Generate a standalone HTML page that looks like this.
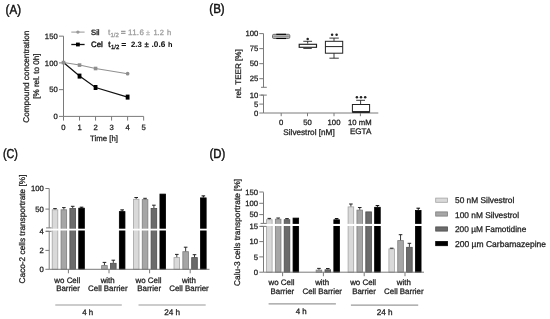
<!DOCTYPE html>
<html><head><meta charset="utf-8"><style>
html,body{margin:0;padding:0;background:#fff;}
svg{display:block;}
text{font-family:"Liberation Sans", Arial, sans-serif;text-rendering:geometricPrecision;}
</style></head><body>
<svg width="550" height="319" viewBox="0 0 550 319">
<rect width="550" height="319" fill="#fff"/>
<text x="5.60" y="14.20" font-size="13" text-anchor="start" fill="#111" stroke="#111" stroke-width="0.45" font-weight="normal" textLength="15.4" lengthAdjust="spacingAndGlyphs">(A)</text>
<line x1="63.50" y1="36.15" x2="63.50" y2="116.40" stroke="#7a7a7a" stroke-width="1.0"/>
<line x1="63.50" y1="116.40" x2="143.65" y2="116.40" stroke="#7a7a7a" stroke-width="1.0"/>
<line x1="59.00" y1="116.40" x2="63.50" y2="116.40" stroke="#7a7a7a" stroke-width="1.0"/>
<text x="57.70" y="119.00" font-size="7.7" text-anchor="end" fill="#1e1e1e" stroke="#1e1e1e" stroke-width="0.28" font-weight="normal" >0</text>
<line x1="59.00" y1="89.65" x2="63.50" y2="89.65" stroke="#7a7a7a" stroke-width="1.0"/>
<text x="57.70" y="92.25" font-size="7.7" text-anchor="end" fill="#1e1e1e" stroke="#1e1e1e" stroke-width="0.28" font-weight="normal" >50</text>
<line x1="59.00" y1="62.90" x2="63.50" y2="62.90" stroke="#7a7a7a" stroke-width="1.0"/>
<text x="57.70" y="65.50" font-size="7.7" text-anchor="end" fill="#1e1e1e" stroke="#1e1e1e" stroke-width="0.28" font-weight="normal" >100</text>
<line x1="59.00" y1="36.15" x2="63.50" y2="36.15" stroke="#7a7a7a" stroke-width="1.0"/>
<text x="57.70" y="38.75" font-size="7.7" text-anchor="end" fill="#1e1e1e" stroke="#1e1e1e" stroke-width="0.28" font-weight="normal" >150</text>
<line x1="63.50" y1="116.40" x2="63.50" y2="120.60" stroke="#7a7a7a" stroke-width="1.0"/>
<text x="63.50" y="129.60" font-size="7.7" text-anchor="middle" fill="#1e1e1e" stroke="#1e1e1e" stroke-width="0.28" font-weight="normal" >0</text>
<line x1="79.53" y1="116.40" x2="79.53" y2="120.60" stroke="#7a7a7a" stroke-width="1.0"/>
<text x="79.53" y="129.60" font-size="7.7" text-anchor="middle" fill="#1e1e1e" stroke="#1e1e1e" stroke-width="0.28" font-weight="normal" >1</text>
<line x1="95.56" y1="116.40" x2="95.56" y2="120.60" stroke="#7a7a7a" stroke-width="1.0"/>
<text x="95.56" y="129.60" font-size="7.7" text-anchor="middle" fill="#1e1e1e" stroke="#1e1e1e" stroke-width="0.28" font-weight="normal" >2</text>
<line x1="111.59" y1="116.40" x2="111.59" y2="120.60" stroke="#7a7a7a" stroke-width="1.0"/>
<text x="111.59" y="129.60" font-size="7.7" text-anchor="middle" fill="#1e1e1e" stroke="#1e1e1e" stroke-width="0.28" font-weight="normal" >3</text>
<line x1="127.62" y1="116.40" x2="127.62" y2="120.60" stroke="#7a7a7a" stroke-width="1.0"/>
<text x="127.62" y="129.60" font-size="7.7" text-anchor="middle" fill="#1e1e1e" stroke="#1e1e1e" stroke-width="0.28" font-weight="normal" >4</text>
<line x1="143.65" y1="116.40" x2="143.65" y2="120.60" stroke="#7a7a7a" stroke-width="1.0"/>
<text x="143.65" y="129.60" font-size="7.7" text-anchor="middle" fill="#1e1e1e" stroke="#1e1e1e" stroke-width="0.28" font-weight="normal" >5</text>
<text x="104.00" y="141.30" font-size="7.8" text-anchor="middle" fill="#1e1e1e" stroke="#1e1e1e" stroke-width="0.28" font-weight="normal" >Time [h]</text>
<text transform="translate(29.30,76.70) rotate(-90)" x="0" y="0" font-size="8.25" text-anchor="middle" fill="#1e1e1e" stroke="#1e1e1e" stroke-width="0.28" >Compound concentration</text>
<text transform="translate(39.40,76.10) rotate(-90)" x="0" y="0" font-size="8.1" text-anchor="middle" fill="#1e1e1e" stroke="#1e1e1e" stroke-width="0.28" >[% rel. to 0h]</text>
<polyline points="63.50,62.60 79.53,65.10 95.56,68.50 127.62,73.70" fill="none" stroke="#919191" stroke-width="1.05"/>
<polyline points="63.50,62.60 79.53,76.10 95.56,87.50 127.62,97.10" fill="none" stroke="#111" stroke-width="1.25"/>
<rect x="61.70" y="60.80" width="3.60" height="3.60" fill="#8e8e8e" stroke="none" stroke-width="0.8" rx="0"/>
<rect x="77.73" y="63.30" width="3.60" height="3.60" fill="#8e8e8e" stroke="none" stroke-width="0.8" rx="0"/>
<rect x="93.76" y="66.70" width="3.60" height="3.60" fill="#8e8e8e" stroke="none" stroke-width="0.8" rx="0"/>
<circle cx="127.62" cy="73.7" r="1.85" fill="#8e8e8e"/>
<rect x="77.63" y="73.60" width="3.80" height="5.00" fill="#000" stroke="none" stroke-width="0.8" rx="0"/>
<rect x="93.66" y="85.00" width="3.80" height="5.00" fill="#000" stroke="none" stroke-width="0.8" rx="0"/>
<rect x="125.72" y="94.60" width="3.80" height="5.00" fill="#000" stroke="none" stroke-width="0.8" rx="0"/>
<line x1="71.30" y1="32.10" x2="84.60" y2="32.10" stroke="#a0a0a0" stroke-width="1.1"/>
<circle cx="77.9" cy="32.1" r="1.7" fill="#999"/>
<line x1="71.30" y1="44.50" x2="84.60" y2="44.50" stroke="#111" stroke-width="1.3"/>
<rect x="76.00" y="42.60" width="3.80" height="3.80" fill="#000" stroke="none" stroke-width="0.8" rx="0"/>
<text x="91.00" y="34.60" font-size="7.7" text-anchor="start" fill="#333" stroke="#333" stroke-width="0.45" font-weight="normal" >Sil</text>
<text x="91.00" y="46.70" font-size="7.8" text-anchor="start" fill="#111" stroke="#111" stroke-width="0.4" font-weight="normal" >Cel</text>
<text x="108.00" y="34.60" font-size="8.2" text-anchor="start" fill="#9c9c9c" stroke="#9c9c9c" stroke-width="0.28" font-weight="normal" >t</text>
<text x="110.40" y="36.70" font-size="6.0" text-anchor="start" fill="#9c9c9c" stroke="#9c9c9c" stroke-width="0.28" font-weight="normal" >1/2</text>
<text x="121.00" y="34.60" font-size="7.8" text-anchor="start" fill="#9c9c9c" stroke="#9c9c9c" stroke-width="0.6" font-weight="normal" >=</text>
<text x="128.00" y="34.60" font-size="7.9" text-anchor="start" fill="#9c9c9c" stroke="#9c9c9c" stroke-width="0.28" font-weight="normal" textLength="15.8" lengthAdjust="spacing">11.6</text>
<text x="146.00" y="34.60" font-size="7.2" text-anchor="start" fill="#b8b8b8" stroke="#b8b8b8" stroke-width="0.28" font-weight="normal" >±</text>
<text x="153.40" y="34.60" font-size="7.5" text-anchor="start" fill="#9c9c9c" stroke="#9c9c9c" stroke-width="0.28" font-weight="normal" >1.2</text>
<text x="167.00" y="34.60" font-size="7.5" text-anchor="start" fill="#9c9c9c" stroke="#9c9c9c" stroke-width="0.28" font-weight="normal" >h</text>
<text x="108.30" y="46.60" font-size="8.2" text-anchor="start" fill="#111" stroke="#111" stroke-width="0.4" font-weight="normal" >t</text>
<text x="110.90" y="48.70" font-size="6.0" text-anchor="start" fill="#111" stroke="#111" stroke-width="0.28" font-weight="normal" >1/2</text>
<text x="121.50" y="46.60" font-size="7.8" text-anchor="start" fill="#111" stroke="#111" stroke-width="0.5" font-weight="normal" >=</text>
<text x="131.00" y="46.60" font-size="7.8" text-anchor="start" fill="#111" stroke="#111" stroke-width="0.05" font-weight="bold" >2.3</text>
<text x="144.60" y="46.60" font-size="7.8" text-anchor="start" fill="#111" stroke="#111" stroke-width="0.28" font-weight="normal" >±</text>
<text x="151.60" y="46.60" font-size="8.2" text-anchor="start" fill="#111" stroke="#111" stroke-width="0.05" font-weight="bold" >.0.6</text>
<text x="167.90" y="46.60" font-size="7.3" text-anchor="start" fill="#111" stroke="#111" stroke-width="0.05" font-weight="bold" >h</text>
<text x="209.30" y="13.20" font-size="13" text-anchor="start" fill="#111" stroke="#111" stroke-width="0.45" font-weight="normal" textLength="15.4" lengthAdjust="spacingAndGlyphs">(B)</text>
<line x1="263.50" y1="33.60" x2="263.50" y2="87.30" stroke="#7a7a7a" stroke-width="1.0"/>
<line x1="263.50" y1="95.10" x2="263.50" y2="113.00" stroke="#7a7a7a" stroke-width="1.0"/>
<line x1="261.00" y1="87.30" x2="266.80" y2="87.30" stroke="#7a7a7a" stroke-width="1.0"/>
<line x1="261.00" y1="95.10" x2="266.80" y2="95.10" stroke="#7a7a7a" stroke-width="1.0"/>
<line x1="259.30" y1="33.60" x2="263.50" y2="33.60" stroke="#7a7a7a" stroke-width="1.0"/>
<text x="258.30" y="36.20" font-size="7.7" text-anchor="end" fill="#1e1e1e" stroke="#1e1e1e" stroke-width="0.28" font-weight="normal" >100</text>
<line x1="259.30" y1="48.63" x2="263.50" y2="48.63" stroke="#7a7a7a" stroke-width="1.0"/>
<text x="258.30" y="51.23" font-size="7.7" text-anchor="end" fill="#1e1e1e" stroke="#1e1e1e" stroke-width="0.28" font-weight="normal" >75</text>
<line x1="259.30" y1="63.66" x2="263.50" y2="63.66" stroke="#7a7a7a" stroke-width="1.0"/>
<text x="258.30" y="66.27" font-size="7.7" text-anchor="end" fill="#1e1e1e" stroke="#1e1e1e" stroke-width="0.28" font-weight="normal" >50</text>
<line x1="259.30" y1="78.70" x2="263.50" y2="78.70" stroke="#7a7a7a" stroke-width="1.0"/>
<text x="258.30" y="81.30" font-size="7.7" text-anchor="end" fill="#1e1e1e" stroke="#1e1e1e" stroke-width="0.28" font-weight="normal" >25</text>
<line x1="259.30" y1="95.10" x2="263.50" y2="95.10" stroke="#7a7a7a" stroke-width="1.0"/>
<text x="258.30" y="97.70" font-size="7.7" text-anchor="end" fill="#1e1e1e" stroke="#1e1e1e" stroke-width="0.28" font-weight="normal" >10</text>
<line x1="259.30" y1="104.10" x2="263.50" y2="104.10" stroke="#7a7a7a" stroke-width="1.0"/>
<text x="258.30" y="106.70" font-size="7.7" text-anchor="end" fill="#1e1e1e" stroke="#1e1e1e" stroke-width="0.28" font-weight="normal" >5</text>
<line x1="259.30" y1="113.00" x2="263.50" y2="113.00" stroke="#7a7a7a" stroke-width="1.0"/>
<text x="258.30" y="115.60" font-size="7.7" text-anchor="end" fill="#1e1e1e" stroke="#1e1e1e" stroke-width="0.28" font-weight="normal" >0</text>
<line x1="263.50" y1="113.00" x2="378.30" y2="113.00" stroke="#7a7a7a" stroke-width="1.0"/>
<line x1="281.20" y1="113.00" x2="281.20" y2="116.20" stroke="#7a7a7a" stroke-width="1.0"/>
<line x1="307.50" y1="113.00" x2="307.50" y2="116.20" stroke="#7a7a7a" stroke-width="1.0"/>
<line x1="334.00" y1="113.00" x2="334.00" y2="116.20" stroke="#7a7a7a" stroke-width="1.0"/>
<line x1="360.40" y1="113.00" x2="360.40" y2="116.20" stroke="#7a7a7a" stroke-width="1.0"/>
<text x="281.20" y="125.10" font-size="7.7" text-anchor="middle" fill="#1e1e1e" stroke="#1e1e1e" stroke-width="0.28" font-weight="normal" >0</text>
<text x="307.50" y="125.10" font-size="7.7" text-anchor="middle" fill="#1e1e1e" stroke="#1e1e1e" stroke-width="0.28" font-weight="normal" >50</text>
<text x="334.00" y="125.10" font-size="7.7" text-anchor="middle" fill="#1e1e1e" stroke="#1e1e1e" stroke-width="0.28" font-weight="normal" >100</text>
<text x="359.80" y="124.60" font-size="7.7" text-anchor="middle" fill="#1e1e1e" stroke="#1e1e1e" stroke-width="0.28" font-weight="normal" >10 mM</text>
<text x="360.60" y="133.90" font-size="8.1" text-anchor="middle" fill="#1e1e1e" stroke="#1e1e1e" stroke-width="0.28" font-weight="normal" >EGTA</text>
<text x="309.00" y="135.10" font-size="8.2" text-anchor="middle" fill="#1e1e1e" stroke="#1e1e1e" stroke-width="0.28" font-weight="normal" >Silvestrol [nM]</text>
<text transform="translate(241.00,73.70) rotate(-90)" x="0" y="0" font-size="8.1" text-anchor="middle" fill="#1e1e1e" stroke="#1e1e1e" stroke-width="0.28" >rel. TEER [%]</text>
<rect x="272.50" y="34.30" width="17.30" height="4.20" fill="#b4b4b4" stroke="#6a6a6a" stroke-width="1.0" rx="1.3"/>
<line x1="273.50" y1="36.40" x2="288.80" y2="36.40" stroke="#8a8a8a" stroke-width="0.8"/>
<line x1="276.30" y1="34.30" x2="286.00" y2="34.30" stroke="#000" stroke-width="1.1"/>
<line x1="276.30" y1="38.50" x2="286.00" y2="38.50" stroke="#000" stroke-width="1.1"/>
<line x1="307.70" y1="41.30" x2="307.70" y2="43.60" stroke="#222" stroke-width="0.9"/>
<line x1="303.30" y1="41.30" x2="312.10" y2="41.30" stroke="#222" stroke-width="0.9"/>
<rect x="299.20" y="44.30" width="17.30" height="3.00" fill="#fff" stroke="#222" stroke-width="1.15" rx="0"/>
<line x1="303.30" y1="48.50" x2="311.80" y2="48.50" stroke="#333" stroke-width="0.9"/>
<circle cx="307.7" cy="38.9" r="1.25" fill="#222"/>
<line x1="334.00" y1="38.10" x2="334.00" y2="41.00" stroke="#222" stroke-width="0.9"/>
<line x1="329.40" y1="38.10" x2="338.80" y2="38.10" stroke="#222" stroke-width="0.9"/>
<rect x="325.40" y="41.30" width="17.30" height="11.90" fill="#fff" stroke="#222" stroke-width="1.0" rx="0"/>
<line x1="325.40" y1="46.60" x2="342.70" y2="46.60" stroke="#222" stroke-width="1.0"/>
<line x1="334.00" y1="53.20" x2="334.00" y2="58.20" stroke="#222" stroke-width="0.9"/>
<line x1="329.40" y1="58.20" x2="338.80" y2="58.20" stroke="#222" stroke-width="0.9"/>
<circle cx="332.1" cy="34.7" r="1.25" fill="#222"/><circle cx="336.6" cy="34.7" r="1.25" fill="#222"/>
<line x1="360.60" y1="100.30" x2="360.60" y2="104.50" stroke="#222" stroke-width="0.9"/>
<line x1="356.20" y1="100.30" x2="365.00" y2="100.30" stroke="#222" stroke-width="0.9"/>
<rect x="352.40" y="104.50" width="17.20" height="7.60" fill="#fff" stroke="#222" stroke-width="1.0" rx="0"/>
<line x1="352.40" y1="112.00" x2="369.60" y2="112.00" stroke="#222" stroke-width="1.8"/>
<circle cx="356.9" cy="97.2" r="1.25" fill="#222"/><circle cx="361.0" cy="97.2" r="1.25" fill="#222"/><circle cx="365.2" cy="97.2" r="1.25" fill="#222"/>
<text x="2.90" y="157.80" font-size="13" text-anchor="start" fill="#111" stroke="#111" stroke-width="0.45" font-weight="normal" textLength="15.0" lengthAdjust="spacingAndGlyphs">(C)</text>
<rect x="52.20" y="209.80" width="5.60" height="59.50" fill="#d9d9d9" stroke="#a3a3a3" stroke-width="0.8" rx="0"/>
<line x1="55.00" y1="208.60" x2="55.00" y2="209.40" stroke="#222" stroke-width="0.9"/>
<line x1="53.20" y1="208.60" x2="56.80" y2="208.60" stroke="#222" stroke-width="1.0"/>
<rect x="61.05" y="209.80" width="5.60" height="59.50" fill="#a6a6a6" stroke="#7d7d7d" stroke-width="0.8" rx="0"/>
<line x1="63.85" y1="207.60" x2="63.85" y2="209.40" stroke="#222" stroke-width="0.9"/>
<line x1="62.05" y1="207.60" x2="65.65" y2="207.60" stroke="#222" stroke-width="1.0"/>
<rect x="69.90" y="208.50" width="5.60" height="60.80" fill="#6b6b6b" stroke="#4d4d4d" stroke-width="0.8" rx="0"/>
<line x1="72.70" y1="206.30" x2="72.70" y2="208.10" stroke="#222" stroke-width="0.9"/>
<line x1="70.90" y1="206.30" x2="74.50" y2="206.30" stroke="#222" stroke-width="1.0"/>
<rect x="78.75" y="208.20" width="5.60" height="61.10" fill="#000" stroke="#000" stroke-width="0.8" rx="0"/>
<line x1="81.55" y1="207.20" x2="81.55" y2="207.80" stroke="#000" stroke-width="0.9"/>
<line x1="79.75" y1="207.20" x2="83.35" y2="207.20" stroke="#000" stroke-width="1.0"/>
<rect x="101.65" y="265.60" width="5.60" height="3.70" fill="#a6a6a6" stroke="#7d7d7d" stroke-width="0.8" rx="0"/>
<line x1="104.45" y1="262.40" x2="104.45" y2="265.20" stroke="#222" stroke-width="0.9"/>
<line x1="102.65" y1="262.40" x2="106.25" y2="262.40" stroke="#222" stroke-width="1.0"/>
<rect x="110.50" y="263.30" width="5.60" height="6.00" fill="#6b6b6b" stroke="#4d4d4d" stroke-width="0.8" rx="0"/>
<line x1="113.30" y1="260.20" x2="113.30" y2="262.90" stroke="#222" stroke-width="0.9"/>
<line x1="111.50" y1="260.20" x2="115.10" y2="260.20" stroke="#222" stroke-width="1.0"/>
<rect x="119.35" y="211.60" width="5.60" height="57.70" fill="#000" stroke="#000" stroke-width="0.8" rx="0"/>
<line x1="122.15" y1="209.90" x2="122.15" y2="211.20" stroke="#000" stroke-width="0.9"/>
<line x1="120.35" y1="209.90" x2="123.95" y2="209.90" stroke="#000" stroke-width="1.0"/>
<rect x="133.40" y="199.30" width="5.60" height="70.00" fill="#d9d9d9" stroke="#a3a3a3" stroke-width="0.8" rx="0"/>
<line x1="136.20" y1="197.50" x2="136.20" y2="198.90" stroke="#222" stroke-width="0.9"/>
<line x1="134.40" y1="197.50" x2="138.00" y2="197.50" stroke="#222" stroke-width="1.0"/>
<rect x="142.25" y="199.60" width="5.60" height="69.70" fill="#a6a6a6" stroke="#7d7d7d" stroke-width="0.8" rx="0"/>
<line x1="145.05" y1="198.30" x2="145.05" y2="199.20" stroke="#222" stroke-width="0.9"/>
<line x1="143.25" y1="198.30" x2="146.85" y2="198.30" stroke="#222" stroke-width="1.0"/>
<rect x="151.10" y="208.40" width="5.60" height="60.90" fill="#6b6b6b" stroke="#4d4d4d" stroke-width="0.8" rx="0"/>
<line x1="153.90" y1="205.20" x2="153.90" y2="208.00" stroke="#222" stroke-width="0.9"/>
<line x1="152.10" y1="205.20" x2="155.70" y2="205.20" stroke="#222" stroke-width="1.0"/>
<rect x="159.95" y="194.10" width="5.60" height="75.20" fill="#000" stroke="#000" stroke-width="0.8" rx="0"/>
<rect x="174.00" y="257.60" width="5.60" height="11.70" fill="#d9d9d9" stroke="#a3a3a3" stroke-width="0.8" rx="0"/>
<line x1="176.80" y1="254.40" x2="176.80" y2="257.20" stroke="#222" stroke-width="0.9"/>
<line x1="175.00" y1="254.40" x2="178.60" y2="254.40" stroke="#222" stroke-width="1.0"/>
<rect x="182.85" y="251.70" width="5.60" height="17.60" fill="#a6a6a6" stroke="#7d7d7d" stroke-width="0.8" rx="0"/>
<line x1="185.65" y1="247.20" x2="185.65" y2="251.30" stroke="#222" stroke-width="0.9"/>
<line x1="183.85" y1="247.20" x2="187.45" y2="247.20" stroke="#222" stroke-width="1.0"/>
<rect x="191.70" y="257.60" width="5.60" height="11.70" fill="#6b6b6b" stroke="#4d4d4d" stroke-width="0.8" rx="0"/>
<line x1="194.50" y1="254.70" x2="194.50" y2="257.20" stroke="#222" stroke-width="0.9"/>
<line x1="192.70" y1="254.70" x2="196.30" y2="254.70" stroke="#222" stroke-width="1.0"/>
<rect x="200.55" y="197.90" width="5.60" height="71.40" fill="#000" stroke="#000" stroke-width="0.8" rx="0"/>
<line x1="203.35" y1="195.90" x2="203.35" y2="197.50" stroke="#000" stroke-width="0.9"/>
<line x1="201.55" y1="195.90" x2="205.15" y2="195.90" stroke="#000" stroke-width="1.0"/>
<rect x="50.80" y="228.70" width="158.00" height="1.80" fill="#fff"/>
<line x1="49.20" y1="188.50" x2="49.20" y2="227.90" stroke="#7a7a7a" stroke-width="1.0"/>
<line x1="46.10" y1="227.90" x2="51.60" y2="227.90" stroke="#7a7a7a" stroke-width="1.0"/>
<line x1="49.20" y1="231.30" x2="49.20" y2="269.30" stroke="#7a7a7a" stroke-width="1.0"/>
<line x1="46.10" y1="231.30" x2="51.60" y2="231.30" stroke="#7a7a7a" stroke-width="1.0"/>
<line x1="45.40" y1="188.50" x2="49.20" y2="188.50" stroke="#7a7a7a" stroke-width="1.0"/>
<text x="43.90" y="191.10" font-size="7.7" text-anchor="end" fill="#1e1e1e" stroke="#1e1e1e" stroke-width="0.28" font-weight="normal" >100</text>
<line x1="45.40" y1="209.10" x2="49.20" y2="209.10" stroke="#7a7a7a" stroke-width="1.0"/>
<text x="43.90" y="211.70" font-size="7.7" text-anchor="end" fill="#1e1e1e" stroke="#1e1e1e" stroke-width="0.28" font-weight="normal" >50</text>
<line x1="45.40" y1="231.30" x2="49.20" y2="231.30" stroke="#7a7a7a" stroke-width="1.0"/>
<text x="43.90" y="233.90" font-size="7.7" text-anchor="end" fill="#1e1e1e" stroke="#1e1e1e" stroke-width="0.28" font-weight="normal" >4</text>
<line x1="45.40" y1="250.40" x2="49.20" y2="250.40" stroke="#7a7a7a" stroke-width="1.0"/>
<text x="43.90" y="253.00" font-size="7.7" text-anchor="end" fill="#1e1e1e" stroke="#1e1e1e" stroke-width="0.28" font-weight="normal" >2</text>
<line x1="45.40" y1="269.30" x2="49.20" y2="269.30" stroke="#7a7a7a" stroke-width="1.0"/>
<text x="43.90" y="271.90" font-size="7.7" text-anchor="end" fill="#1e1e1e" stroke="#1e1e1e" stroke-width="0.28" font-weight="normal" >0</text>
<line x1="49.20" y1="269.30" x2="209.50" y2="269.30" stroke="#7a7a7a" stroke-width="1.0"/>
<line x1="68.40" y1="269.30" x2="68.40" y2="273.30" stroke="#7a7a7a" stroke-width="1.0"/>
<line x1="109.00" y1="269.30" x2="109.00" y2="273.30" stroke="#7a7a7a" stroke-width="1.0"/>
<line x1="149.60" y1="269.30" x2="149.60" y2="273.30" stroke="#7a7a7a" stroke-width="1.0"/>
<line x1="190.20" y1="269.30" x2="190.20" y2="273.30" stroke="#7a7a7a" stroke-width="1.0"/>
<text x="67.30" y="282.50" font-size="7.9" text-anchor="middle" fill="#1e1e1e" stroke="#1e1e1e" stroke-width="0.28" font-weight="normal" >wo Cell</text>
<text x="68.00" y="291.20" font-size="7.9" text-anchor="middle" fill="#1e1e1e" stroke="#1e1e1e" stroke-width="0.28" font-weight="normal" >Barrier</text>
<text x="107.70" y="282.50" font-size="7.9" text-anchor="middle" fill="#1e1e1e" stroke="#1e1e1e" stroke-width="0.28" font-weight="normal" >with</text>
<text x="107.80" y="291.20" font-size="7.9" text-anchor="middle" fill="#1e1e1e" stroke="#1e1e1e" stroke-width="0.28" font-weight="normal" >Cell Barrier</text>
<text x="148.50" y="282.50" font-size="7.9" text-anchor="middle" fill="#1e1e1e" stroke="#1e1e1e" stroke-width="0.28" font-weight="normal" >wo Cell</text>
<text x="149.20" y="291.20" font-size="7.9" text-anchor="middle" fill="#1e1e1e" stroke="#1e1e1e" stroke-width="0.28" font-weight="normal" >Barrier</text>
<text x="188.90" y="282.50" font-size="7.9" text-anchor="middle" fill="#1e1e1e" stroke="#1e1e1e" stroke-width="0.28" font-weight="normal" >with</text>
<text x="189.00" y="291.20" font-size="7.9" text-anchor="middle" fill="#1e1e1e" stroke="#1e1e1e" stroke-width="0.28" font-weight="normal" >Cell Barrier</text>
<line x1="55.30" y1="305.00" x2="121.80" y2="305.00" stroke="#9a9a9a" stroke-width="1.2"/>
<line x1="138.50" y1="305.00" x2="205.70" y2="305.00" stroke="#9a9a9a" stroke-width="1.2"/>
<text x="87.70" y="314.80" font-size="7.9" text-anchor="middle" fill="#1e1e1e" stroke="#1e1e1e" stroke-width="0.28" font-weight="normal" >4 h</text>
<text x="172.10" y="314.80" font-size="8.2" text-anchor="middle" fill="#1e1e1e" stroke="#1e1e1e" stroke-width="0.28" font-weight="normal" >24 h</text>
<text transform="translate(25.00,229.00) rotate(-90)" x="0" y="0" font-size="8.27" text-anchor="middle" fill="#1e1e1e" stroke="#1e1e1e" stroke-width="0.28" >Caco-2 cells transportrate [%]</text>
<text x="209.40" y="157.80" font-size="13" text-anchor="start" fill="#111" stroke="#111" stroke-width="0.45" font-weight="normal" textLength="15.8" lengthAdjust="spacingAndGlyphs">(D)</text>
<rect x="266.50" y="219.70" width="5.60" height="52.50" fill="#d9d9d9" stroke="#a3a3a3" stroke-width="0.8" rx="0"/>
<line x1="269.30" y1="218.40" x2="269.30" y2="219.30" stroke="#222" stroke-width="0.9"/>
<line x1="267.50" y1="218.40" x2="271.10" y2="218.40" stroke="#222" stroke-width="1.0"/>
<rect x="275.35" y="219.20" width="5.60" height="53.00" fill="#a6a6a6" stroke="#7d7d7d" stroke-width="0.8" rx="0"/>
<line x1="278.15" y1="218.00" x2="278.15" y2="218.80" stroke="#222" stroke-width="0.9"/>
<line x1="276.35" y1="218.00" x2="279.95" y2="218.00" stroke="#222" stroke-width="1.0"/>
<rect x="284.20" y="219.70" width="5.60" height="52.50" fill="#6b6b6b" stroke="#4d4d4d" stroke-width="0.8" rx="0"/>
<line x1="287.00" y1="218.60" x2="287.00" y2="219.30" stroke="#222" stroke-width="0.9"/>
<line x1="285.20" y1="218.60" x2="288.80" y2="218.60" stroke="#222" stroke-width="1.0"/>
<rect x="293.05" y="218.10" width="5.60" height="54.10" fill="#000" stroke="#000" stroke-width="0.8" rx="0"/>
<rect x="316.15" y="270.10" width="5.60" height="2.10" fill="#a6a6a6" stroke="#7d7d7d" stroke-width="0.8" rx="0"/>
<line x1="318.95" y1="268.40" x2="318.95" y2="269.70" stroke="#222" stroke-width="0.9"/>
<line x1="317.15" y1="268.40" x2="320.75" y2="268.40" stroke="#222" stroke-width="1.0"/>
<rect x="325.00" y="269.80" width="5.60" height="2.40" fill="#6b6b6b" stroke="#4d4d4d" stroke-width="0.8" rx="0"/>
<line x1="327.80" y1="268.50" x2="327.80" y2="269.40" stroke="#222" stroke-width="0.9"/>
<line x1="326.00" y1="268.50" x2="329.60" y2="268.50" stroke="#222" stroke-width="1.0"/>
<rect x="333.85" y="219.80" width="5.60" height="52.40" fill="#000" stroke="#000" stroke-width="0.8" rx="0"/>
<line x1="336.65" y1="218.60" x2="336.65" y2="219.40" stroke="#000" stroke-width="0.9"/>
<line x1="334.85" y1="218.60" x2="338.45" y2="218.60" stroke="#000" stroke-width="1.0"/>
<rect x="348.10" y="206.90" width="5.60" height="65.30" fill="#d9d9d9" stroke="#a3a3a3" stroke-width="0.8" rx="0"/>
<line x1="350.90" y1="204.00" x2="350.90" y2="206.50" stroke="#222" stroke-width="0.9"/>
<line x1="349.10" y1="204.00" x2="352.70" y2="204.00" stroke="#222" stroke-width="1.0"/>
<rect x="356.95" y="210.10" width="5.60" height="62.10" fill="#a6a6a6" stroke="#7d7d7d" stroke-width="0.8" rx="0"/>
<line x1="359.75" y1="207.50" x2="359.75" y2="209.70" stroke="#222" stroke-width="0.9"/>
<line x1="357.95" y1="207.50" x2="361.55" y2="207.50" stroke="#222" stroke-width="1.0"/>
<rect x="365.80" y="211.90" width="5.60" height="60.30" fill="#6b6b6b" stroke="#4d4d4d" stroke-width="0.8" rx="0"/>
<rect x="374.65" y="207.30" width="5.60" height="64.90" fill="#000" stroke="#000" stroke-width="0.8" rx="0"/>
<line x1="377.45" y1="205.60" x2="377.45" y2="206.90" stroke="#000" stroke-width="0.9"/>
<line x1="375.65" y1="205.60" x2="379.25" y2="205.60" stroke="#000" stroke-width="1.0"/>
<rect x="388.90" y="248.90" width="5.60" height="23.30" fill="#d9d9d9" stroke="#a3a3a3" stroke-width="0.8" rx="0"/>
<line x1="391.70" y1="248.20" x2="391.70" y2="248.50" stroke="#222" stroke-width="0.9"/>
<line x1="389.90" y1="248.20" x2="393.50" y2="248.20" stroke="#222" stroke-width="1.0"/>
<rect x="397.75" y="240.60" width="5.60" height="31.60" fill="#a6a6a6" stroke="#7d7d7d" stroke-width="0.8" rx="0"/>
<line x1="400.55" y1="234.70" x2="400.55" y2="240.20" stroke="#222" stroke-width="0.9"/>
<line x1="398.75" y1="234.70" x2="402.35" y2="234.70" stroke="#222" stroke-width="1.0"/>
<rect x="406.60" y="247.30" width="5.60" height="24.90" fill="#6b6b6b" stroke="#4d4d4d" stroke-width="0.8" rx="0"/>
<line x1="409.40" y1="243.30" x2="409.40" y2="246.90" stroke="#222" stroke-width="0.9"/>
<line x1="407.60" y1="243.30" x2="411.20" y2="243.30" stroke="#222" stroke-width="1.0"/>
<rect x="415.45" y="210.40" width="5.60" height="61.80" fill="#000" stroke="#000" stroke-width="0.8" rx="0"/>
<line x1="418.25" y1="208.20" x2="418.25" y2="210.00" stroke="#000" stroke-width="0.9"/>
<line x1="416.45" y1="208.20" x2="420.05" y2="208.20" stroke="#000" stroke-width="1.0"/>
<rect x="265.10" y="223.90" width="158.40" height="2.10" fill="#fff"/>
<line x1="263.50" y1="192.30" x2="263.50" y2="223.40" stroke="#7a7a7a" stroke-width="1.0"/>
<line x1="260.50" y1="223.40" x2="266.40" y2="223.40" stroke="#7a7a7a" stroke-width="1.0"/>
<line x1="263.50" y1="226.40" x2="263.50" y2="272.20" stroke="#7a7a7a" stroke-width="1.0"/>
<line x1="260.50" y1="226.40" x2="266.40" y2="226.40" stroke="#7a7a7a" stroke-width="1.0"/>
<line x1="259.30" y1="192.00" x2="263.50" y2="192.00" stroke="#7a7a7a" stroke-width="1.0"/>
<text x="258.10" y="194.60" font-size="7.7" text-anchor="end" fill="#1e1e1e" stroke="#1e1e1e" stroke-width="0.28" font-weight="normal" >150</text>
<line x1="259.30" y1="203.30" x2="263.50" y2="203.30" stroke="#7a7a7a" stroke-width="1.0"/>
<text x="258.10" y="205.90" font-size="7.7" text-anchor="end" fill="#1e1e1e" stroke="#1e1e1e" stroke-width="0.28" font-weight="normal" >100</text>
<line x1="259.30" y1="214.60" x2="263.50" y2="214.60" stroke="#7a7a7a" stroke-width="1.0"/>
<text x="258.10" y="217.20" font-size="7.7" text-anchor="end" fill="#1e1e1e" stroke="#1e1e1e" stroke-width="0.28" font-weight="normal" >50</text>
<line x1="259.30" y1="226.40" x2="263.50" y2="226.40" stroke="#7a7a7a" stroke-width="1.0"/>
<text x="258.10" y="229.00" font-size="7.7" text-anchor="end" fill="#1e1e1e" stroke="#1e1e1e" stroke-width="0.28" font-weight="normal" >15</text>
<line x1="259.30" y1="241.60" x2="263.50" y2="241.60" stroke="#7a7a7a" stroke-width="1.0"/>
<text x="258.10" y="244.20" font-size="7.7" text-anchor="end" fill="#1e1e1e" stroke="#1e1e1e" stroke-width="0.28" font-weight="normal" >10</text>
<line x1="259.30" y1="256.90" x2="263.50" y2="256.90" stroke="#7a7a7a" stroke-width="1.0"/>
<text x="258.10" y="259.50" font-size="7.7" text-anchor="end" fill="#1e1e1e" stroke="#1e1e1e" stroke-width="0.28" font-weight="normal" >5</text>
<line x1="259.30" y1="272.20" x2="263.50" y2="272.20" stroke="#7a7a7a" stroke-width="1.0"/>
<text x="258.10" y="274.80" font-size="7.7" text-anchor="end" fill="#1e1e1e" stroke="#1e1e1e" stroke-width="0.28" font-weight="normal" >0</text>
<line x1="263.50" y1="272.20" x2="424.00" y2="272.20" stroke="#7a7a7a" stroke-width="1.0"/>
<line x1="282.60" y1="272.20" x2="282.60" y2="276.20" stroke="#7a7a7a" stroke-width="1.0"/>
<line x1="323.40" y1="272.20" x2="323.40" y2="276.20" stroke="#7a7a7a" stroke-width="1.0"/>
<line x1="364.20" y1="272.20" x2="364.20" y2="276.20" stroke="#7a7a7a" stroke-width="1.0"/>
<line x1="405.00" y1="272.20" x2="405.00" y2="276.20" stroke="#7a7a7a" stroke-width="1.0"/>
<text x="281.50" y="284.90" font-size="7.9" text-anchor="middle" fill="#1e1e1e" stroke="#1e1e1e" stroke-width="0.28" font-weight="normal" >wo Cell</text>
<text x="282.40" y="294.10" font-size="7.9" text-anchor="middle" fill="#1e1e1e" stroke="#1e1e1e" stroke-width="0.28" font-weight="normal" >Barrier</text>
<text x="322.20" y="284.90" font-size="7.9" text-anchor="middle" fill="#1e1e1e" stroke="#1e1e1e" stroke-width="0.28" font-weight="normal" >with</text>
<text x="322.20" y="294.10" font-size="7.9" text-anchor="middle" fill="#1e1e1e" stroke="#1e1e1e" stroke-width="0.28" font-weight="normal" >Cell Barrier</text>
<text x="363.10" y="284.90" font-size="7.9" text-anchor="middle" fill="#1e1e1e" stroke="#1e1e1e" stroke-width="0.28" font-weight="normal" >wo Cell</text>
<text x="364.00" y="294.10" font-size="7.9" text-anchor="middle" fill="#1e1e1e" stroke="#1e1e1e" stroke-width="0.28" font-weight="normal" >Barrier</text>
<text x="403.80" y="284.90" font-size="7.9" text-anchor="middle" fill="#1e1e1e" stroke="#1e1e1e" stroke-width="0.28" font-weight="normal" >with</text>
<text x="403.80" y="294.10" font-size="7.9" text-anchor="middle" fill="#1e1e1e" stroke="#1e1e1e" stroke-width="0.28" font-weight="normal" >Cell Barrier</text>
<line x1="268.60" y1="303.80" x2="335.90" y2="303.80" stroke="#9a9a9a" stroke-width="1.25"/>
<line x1="350.90" y1="305.20" x2="418.20" y2="305.20" stroke="#9a9a9a" stroke-width="1.25"/>
<text x="301.20" y="313.50" font-size="7.9" text-anchor="middle" fill="#1e1e1e" stroke="#1e1e1e" stroke-width="0.28" font-weight="normal" >4 h</text>
<text x="384.60" y="314.90" font-size="8.2" text-anchor="middle" fill="#1e1e1e" stroke="#1e1e1e" stroke-width="0.28" font-weight="normal" >24 h</text>
<text transform="translate(239.60,232.40) rotate(-90)" x="0" y="0" font-size="8.3" text-anchor="middle" fill="#1e1e1e" stroke="#1e1e1e" stroke-width="0.28" >Calu-3 cells transportrate [%]</text>
<rect x="435.70" y="198.10" width="11.80" height="4.20" fill="#d9d9d9" stroke="#a3a3a3" stroke-width="0.8" rx="0"/>
<text x="455.00" y="203.00" font-size="8.36" text-anchor="start" fill="#1e1e1e" stroke="#1e1e1e" stroke-width="0.28" font-weight="normal" >50 nM Silvestrol</text>
<rect x="435.70" y="211.90" width="11.80" height="4.20" fill="#a6a6a6" stroke="#7d7d7d" stroke-width="0.8" rx="0"/>
<text x="455.00" y="217.70" font-size="8.36" text-anchor="start" fill="#1e1e1e" stroke="#1e1e1e" stroke-width="0.28" font-weight="normal" >100 nM Silvestrol</text>
<rect x="435.70" y="226.90" width="11.80" height="4.20" fill="#6b6b6b" stroke="#4d4d4d" stroke-width="0.8" rx="0"/>
<text x="455.00" y="232.30" font-size="8.32" text-anchor="start" fill="#1e1e1e" stroke="#1e1e1e" stroke-width="0.28" font-weight="normal" >200 µM Famotidine</text>
<rect x="435.70" y="241.50" width="11.80" height="4.20" fill="#000" stroke="#000" stroke-width="0.8" rx="0"/>
<text x="455.00" y="246.80" font-size="8.53" text-anchor="start" fill="#1e1e1e" stroke="#1e1e1e" stroke-width="0.28" font-weight="normal" >200 µm Carbamazepine</text>
</svg>
</body></html>
